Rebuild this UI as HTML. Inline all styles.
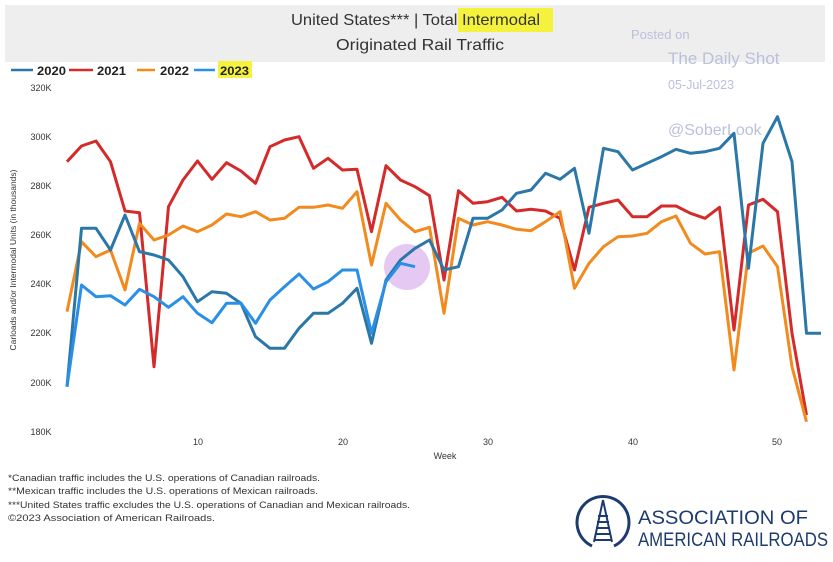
<!DOCTYPE html>
<html><head><meta charset="utf-8"><style>
html,body{margin:0;padding:0;background:#fff}
svg{display:block;font-family:"Liberation Sans",Arial,sans-serif}
</style></head><body>
<svg id="s" width="833" height="562" viewBox="0 0 833 562" xmlns="http://www.w3.org/2000/svg">
<rect x="5" y="5" width="820" height="57" fill="#eeeeee"/>
<rect x="458" y="8" width="95" height="24" fill="#f4f23c"/>
<text x="291" y="25" font-size="16" fill="#333" textLength="249" lengthAdjust="spacingAndGlyphs">United States*** | Total Intermodal</text>
<text x="336" y="50" font-size="16" fill="#333" textLength="168" lengthAdjust="spacingAndGlyphs">Originated Rail Traffic</text>
<text x="631" y="39" font-size="13" fill="#b9c1dc">Posted on</text>
<text x="668" y="64" font-size="17" fill="#b9c1dc">The Daily Shot</text>
<text x="668" y="89" font-size="12.5" fill="#b9c1dc">05-Jul-2023</text>
<text x="668" y="135" font-size="16" fill="#b9c1dc">@SoberLook</text>
<!-- legend -->
<rect x="218" y="61" width="34" height="17" fill="#f4f23c"/>
<line x1="11" y1="70" x2="33" y2="70" stroke="#2a77a8" stroke-width="2.5"/>
<text x="37" y="75" font-size="12" font-weight="bold" fill="#222" textLength="29" lengthAdjust="spacingAndGlyphs">2020</text>
<line x1="69" y1="70" x2="93" y2="70" stroke="#d42a2a" stroke-width="2.5"/>
<text x="97" y="75" font-size="12" font-weight="bold" fill="#222" textLength="29" lengthAdjust="spacingAndGlyphs">2021</text>
<line x1="137" y1="70" x2="155" y2="70" stroke="#f28a1e" stroke-width="2.5"/>
<text x="160" y="75" font-size="12" font-weight="bold" fill="#222" textLength="29" lengthAdjust="spacingAndGlyphs">2022</text>
<line x1="194" y1="70" x2="215" y2="70" stroke="#2a8fe6" stroke-width="2.5"/>
<text x="220" y="75" font-size="12" font-weight="bold" fill="#222" textLength="29" lengthAdjust="spacingAndGlyphs">2023</text>
<!-- y ticks -->
<g font-size="9" fill="#333" text-anchor="middle">
<text x="41" y="91">320K</text><text x="41" y="140">300K</text><text x="41" y="189">280K</text>
<text x="41" y="238">260K</text><text x="41" y="287">240K</text><text x="41" y="336">220K</text>
<text x="41" y="386">200K</text><text x="41" y="435">180K</text>
<text x="198" y="445">10</text><text x="343" y="445">20</text><text x="488" y="445">30</text>
<text x="633" y="445">40</text><text x="777" y="445">50</text>
<text x="445" y="459">Week</text>
</g>
<text transform="translate(16,260) rotate(-90)" font-size="8.5" fill="#333" text-anchor="middle">Carloads and/or Intermodal Units (in thousands)</text>
<circle cx="407" cy="267" r="23" fill="#e6c9f2"/>
<g id="lines" fill="none" stroke-width="3" stroke-linejoin="round"></g>
<!-- footnotes -->
<g font-size="9" fill="#333">
<text x="8" y="481" textLength="312" lengthAdjust="spacingAndGlyphs">*Canadian traffic includes the U.S. operations of Canadian railroads.</text>
<text x="8" y="494" textLength="310" lengthAdjust="spacingAndGlyphs">**Mexican traffic includes the U.S. operations of Mexican railroads.</text>
<text x="8" y="508" textLength="402" lengthAdjust="spacingAndGlyphs">***United States traffic excludes the U.S. operations of Canadian and Mexican railroads.</text>
<text x="8" y="521" textLength="207" lengthAdjust="spacingAndGlyphs">©2023 Association of American Railroads.</text>
</g>
<!-- logo -->
<g stroke="#1d3b6e" fill="none">
<path d="M592 546 A26 26 0 1 1 614 546" stroke-width="3"/>
<path d="M603 500 L594 542 M603 500 L612 542" stroke-width="2"/>
<path d="M598 516h10M597 522h12M596 528h14M595 534h16M594 540h18" stroke-width="2"/>
</g>
<text x="638" y="524" font-size="19" fill="#1d3b6e" font-family="Liberation Sans Narrow, Liberation Sans, sans-serif" textLength="170" lengthAdjust="spacingAndGlyphs">ASSOCIATION OF</text>
<text x="638" y="546" font-size="19" fill="#1d3b6e" font-family="Liberation Sans Narrow, Liberation Sans, sans-serif" textLength="190" lengthAdjust="spacingAndGlyphs">AMERICAN RAILROADS</text>
</svg>
<script>
var a={
"#d42a2a":[185,138,123,185,333,338,800,320,240,183,238,188,213,250,140,120,110,205,175,210,208,395,197,240,260,287,540,272,310,305,292,333,328,333,355,510,322,310,300,350,350,318,318,340,355,322,690,315,298,335,700,945],
"#f28a1e":[635,425,470,450,570,370,420,405,378,395,375,342,350,335,360,355,322,322,315,325,275,495,310,360,395,382,640,355,375,365,375,388,392,365,335,565,490,440,410,408,400,365,348,430,462,455,810,460,438,500,800,965],
"#2a77a8":[860,385,385,450,345,455,465,480,530,605,575,580,610,710,745,745,685,640,640,610,565,730,540,480,445,420,510,500,355,355,330,280,270,220,238,205,400,145,155,210,190,170,148,160,155,145,100,505,130,50,185,700,700],
"#2a8fe6":[860,555,590,587,615,568,590,622,590,640,668,610,610,670,600,560,522,567,545,510,510,700,545,490,500]};
var g=document.getElementById('lines'),h='';
for(var c in a){var p=a[c].map(function(v,i){return (67+i*14.5).toFixed(1)+','+(100+v/3).toFixed(1)}).join(' ');
h+='<polyline stroke="'+c+'" points="'+p+'"/>';}
g.innerHTML=h;
</script>
</body></html>
